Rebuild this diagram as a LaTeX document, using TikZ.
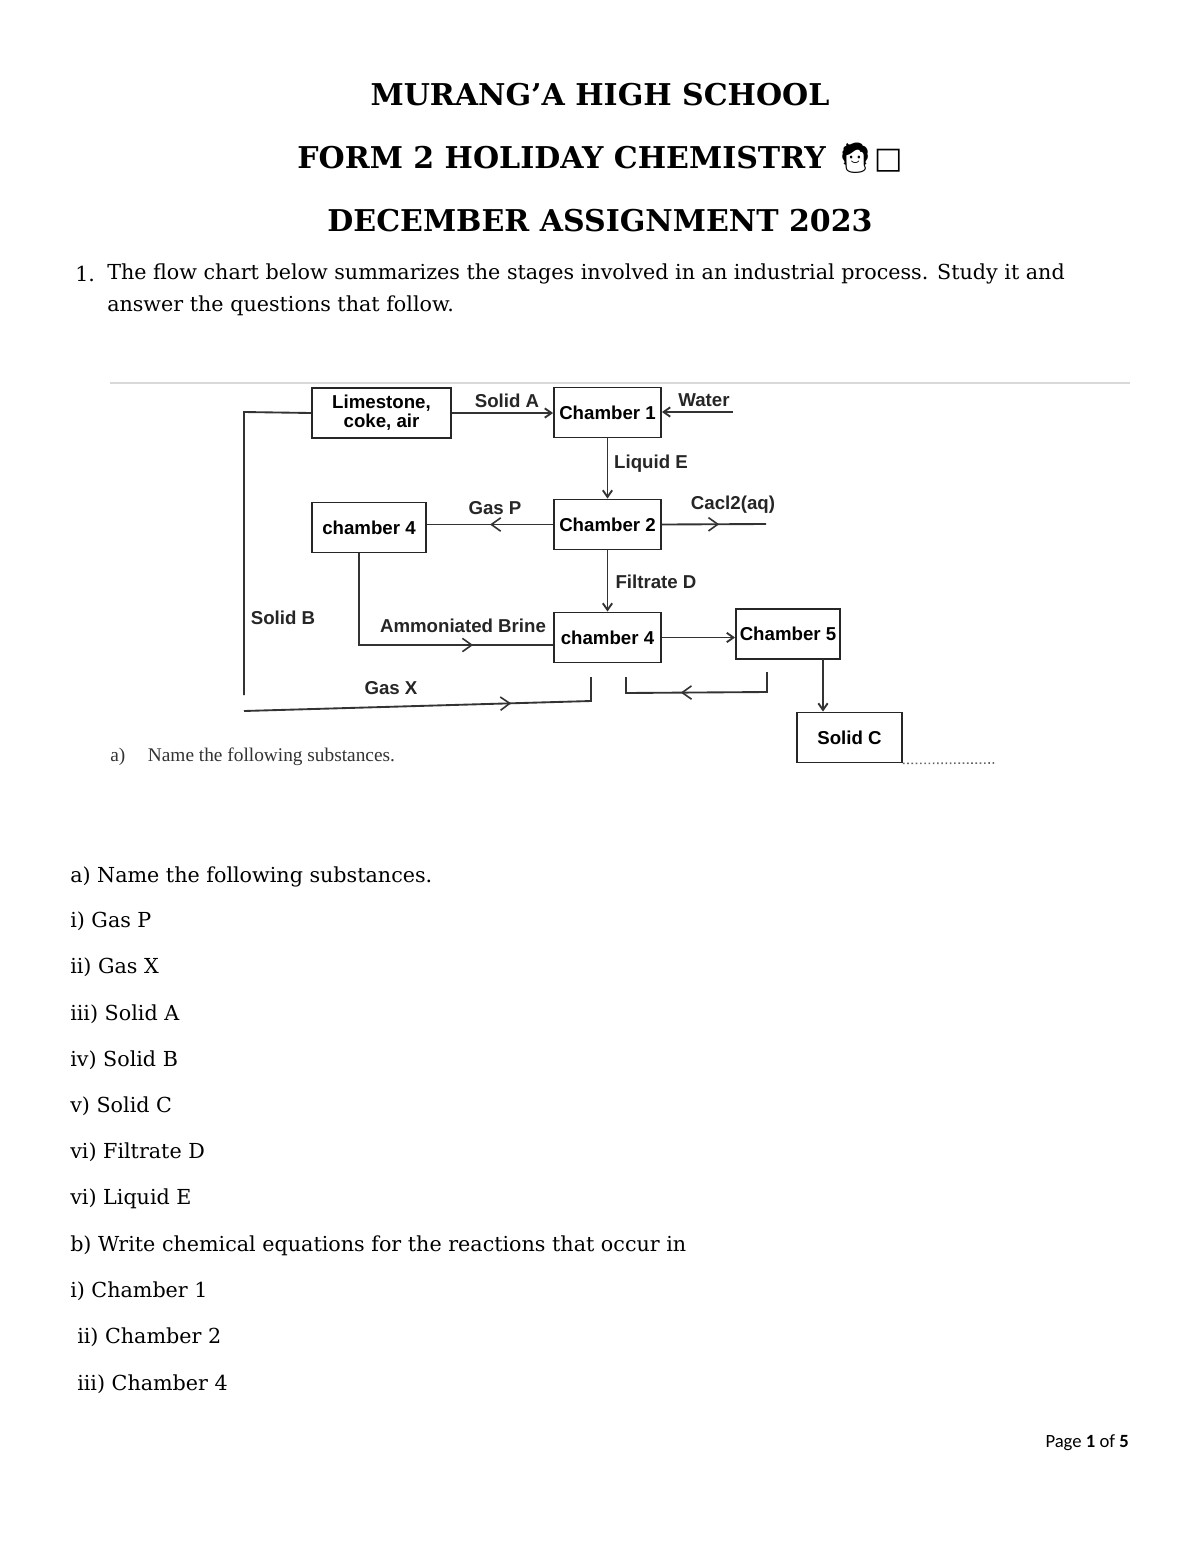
\documentclass[tikz,border=0pt]{standalone}
\usepackage{fontspec}
\setmainfont{DejaVu Serif}
\newfontfamily\arialb{Liberation Sans}
\newfontfamily\timesf{Liberation Serif}
\newfontfamily\calib{Carlito}
\newfontfamily\emo{Noto Emoji}
\newfontfamily\djs{DejaVu Sans}
\usetikzlibrary{decorations.markings,arrows.meta}
\tikzset{
 box/.style={draw,line width=1.4pt,draw=black!85,minimum height=37.5pt,inner sep=0pt,font=\arialb\bfseries\fontsize{14}{15}\selectfont},
 lab/.style={font=\arialb\bfseries\fontsize{14}{15}\selectfont,inner sep=0pt,text=black!85},
 ln/.style={line width=1.4pt,draw=black!80},
 midarr/.style={postaction={decorate},decoration={markings,mark=at position #1 with {\arrow{Straight Barb[length=7pt,width=10pt,line width=1.2pt]}}}},
 endarr/.style={-{Straight Barb[length=5pt,width=7pt]}},
 title/.style={font=\bfseries\fontsize{22.5}{26}\selectfont},
 body/.style={font=\fontsize{15.5}{18}\selectfont,anchor=west,inner sep=0pt},
}
\begin{document}
\begin{tikzpicture}[x=0.75pt,y=-0.75pt]
\useasboundingbox[fill=white] (0,0) rectangle (1200,1553);
\node[title] (t1) at (600,95) {MURANG’A HIGH SCHOOL};
\node[title] (t2) at (600,158) {FORM 2 HOLIDAY CHEMISTRY {\emo 🧑}{\djs\mdseries □}};
\node[title] (t3) at (600,221) {DECEMBER ASSIGNMENT 2023};
\node[body] (q1n) at (75,274) {1.};
\node[body] (q1a) at (107,274) {The flow chart below summarizes the stages involved in an industrial process. Study it and};
\node[body] (q1b) at (107,306) {answer the questions that follow.};
% scan top line
\draw[black!15,line width=1pt] (110,383) -- (1130,383);
% boxes
\node[box,minimum width=104.25pt,align=center,font=\arialb\bfseries\fontsize{14}{14}\selectfont] (lime) at (381.5,413) {Limestone,\\coke, air};
\node[box,minimum width=80.25pt] (c1) at (607.5,412.5) {Chamber 1};
\node[box,minimum width=80.25pt] (c2) at (607.5,524.5) {Chamber 2};
\node[box,minimum width=85.5pt] (c4a) at (369,527.5) {chamber 4};
\node[box,minimum width=80.25pt] (c4b) at (607.5,637.5) {chamber 4};
\node[box,minimum width=78pt] (c5) at (788,634) {Chamber 5};
\node[box,minimum width=78.75pt] (sc) at (849.5,737.5) {Solid C};
\coordinate (w) at (733,412);
\coordinate (cacl) at (766,524);
\coordinate (b1) at (359,645);
\coordinate (sb1) at (244,412);
\coordinate (sb2) at (244,695);
\coordinate (gx1) at (244,711);
\coordinate (gx2) at (591,701);
\coordinate (gx3) at (591,677);
\coordinate (r1) at (767,672);
\coordinate (r2) at (767,692);
\coordinate (r3) at (626,693);
\coordinate (r4) at (626,677);
\coordinate (c5s) at (823,659);
% connectors
\draw[ln,endarr] (lime.east) -- (lime.east -| c1.west);
\draw[ln,endarr] (w) -- (w -| c1.east);
\draw[ln,endarr] (c1.south) -- (c2.north);
\draw[ln,midarr=0.5] (c2.west) -- (c2.west -| c4a.east);
\draw[ln,midarr=0.55] (c2.east) -- (cacl);
\draw[ln,endarr] (c2.south) -- (c4b.north);
\draw[ln,endarr] (c4b.east) -- (c4b.east -| c5.west);
\draw[ln,endarr] (c5s) -- (c5s |- sc.north);
\draw[ln,midarr=0.72] (c4a.south -| b1) -- (b1) -- (b1 -| c4b.west);
\draw[ln] (lime.west) -- (sb1) -- (sb2);
\draw[ln,midarr=0.72] (gx1) -- (gx2) -- (gx3);
\draw[ln,midarr=0.6] (r1) -- (r2) -- (r3) -- (r4);
% labels
\node[lab] (la) at (507,401) {Solid A};
\node[lab] (lw) at (704,400) {Water};
\node[lab] (le) at (651,464) {Liquid E};
\node[lab] (lp) at (495,508) {Gas P};
\node[lab] (lc) at (733,505) {Cacl2(aq)};
\node[lab] (ld) at (656,582) {Filtrate D};
\node[lab] (lbr) at (463,626) {Ammoniated Brine};
\node[lab] (lsb) at (283,618) {Solid B};
\node[lab] (lgx) at (391,688) {Gas X};
\draw[black!60,dotted,line width=1.2pt] (sc.south east) -- (995,763);
\node[font=\timesf\fontsize{14.5}{15}\selectfont,anchor=west,inner sep=0pt,black!80] (na) at (110,757) {a)\hspace{17pt}Name the following substances.};
% questions
\node[body] (a) at (70,877) {a) Name the following substances.};
\node[body] (a1) at (70,921) {i) Gas P};
\node[body] (a2) at (70,967) {ii) Gas X};
\node[body] (a3) at (70,1014) {iii) Solid A};
\node[body] (a4) at (70,1060) {iv) Solid B};
\node[body] (a5) at (70,1106) {v) Solid C};
\node[body] (a6) at (70,1152) {vi) Filtrate D};
\node[body] (a7) at (70,1199) {vi) Liquid E};
\node[body] (b) at (70,1246) {b) Write chemical equations for the reactions that occur in};
\node[body] (b1n) at (70,1291) {i) Chamber 1};
\node[body] (b2n) at (77,1337) {ii) Chamber 2};
\node[body] (b3n) at (77,1384) {iii) Chamber 4};
\node[font=\calib\fontsize{14}{15}\selectfont,anchor=east,inner sep=0pt] (pg) at (1129,1443) {Page \textbf{1} of \textbf{5}};
\end{tikzpicture}
\end{document}
